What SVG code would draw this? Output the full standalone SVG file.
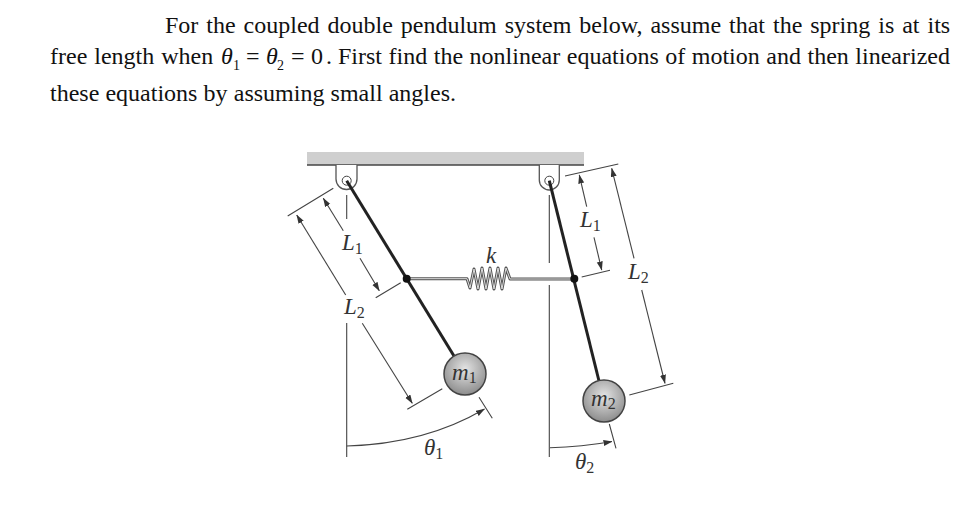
<svg xmlns="http://www.w3.org/2000/svg" width="971" height="505" viewBox="0 0 971 505">
<style>
text{font-family:"Liberation Serif","Times New Roman",serif;fill:#111}
.p{font-size:24px}
.l{font-size:23px;font-style:italic;fill:#333}
.s{font-size:16px;font-style:normal}
.t{fill:none;stroke:#444;stroke-width:1.1}
.d{fill:none;stroke:#444;stroke-width:1.1;marker-end:url(#a)}
.rod{stroke:#222;stroke-width:3;fill:none}
.w1{fill:none;stroke:#555;stroke-width:3;stroke-linejoin:round}
.w2{fill:none;stroke:#ddd;stroke-width:1;stroke-linejoin:round}
.mass{fill:url(#g);stroke:#444;stroke-width:1.5}
.br{fill:#fff;stroke:#555;stroke-width:1.3}
</style>
<defs>
<marker id="a" markerWidth="9" markerHeight="7" refX="8.5" refY="3" orient="auto" markerUnits="userSpaceOnUse"><path d="M0 0L9 3L0 6z" fill="#333"/></marker>
<radialGradient id="g" cx="0.5" cy="0.38" r="0.6"><stop offset="0" stop-color="#e4e4e4"/><stop offset="1" stop-color="#8f8f8f"/></radialGradient>
</defs>
<g id="problem-text">
<text class="p" x="165" y="33" word-spacing="1.96">For the coupled double pendulum system below, assume that the spring is at its</text>
<text class="p" x="50" y="64" word-spacing="1">free length when</text>
<text class="p" x="221" y="64" font-style="italic">θ</text><text x="233" y="70" font-size="14">1</text>
<text class="p" x="246" y="64">=</text>
<text class="p" x="266" y="64" font-style="italic">θ</text><text x="277" y="70" font-size="14">2</text>
<text class="p" x="291" y="64">=</text>
<text class="p" x="311" y="64">0</text>
<text class="p" x="326" y="64">.</text>
<text class="p" x="338" y="64" word-spacing="0.53">First find the nonlinear equations of motion and then linearized</text>
<text class="p" x="50" y="101" word-spacing="0.15">these equations by assuming small angles.</text>
</g>
<g id="ceiling"><rect x="307" y="152" width="277" height="13" fill="#cfcfcf"/><path d="M307 165H584" stroke="#444" stroke-width="1.5"/></g>
<g id="connectors">
<path class="t" d="M346.7 195V219M346.7 323V457M549.3 195V263M549.3 285V457"/>
<path class="t" d="M333.3 188.3L287.7 216M375.7 297.7L400.7 282.7M407.3 409.3L442.3 388.7M479 397.3L492.3 418.3M565 176L618.3 164M581.7 277L610 270.3M629.3 395L673.3 383.3M609.3 424L616 448.3"/>
<path class="d" d="M345.7 295L296.7 215"/><path class="d" d="M362.3 323.3L412.3 403.3"/>
<path class="d" d="M343.3 230.7L323.3 198.3"/><path class="d" d="M360 258.3L379.3 290.7"/>
<path class="d" d="M586.7 206.7L579.3 175"/><path class="d" d="M594 237.3L601.7 270"/>
<path class="d" d="M634 258.3L611.7 168.3"/><path class="d" d="M641.7 290L665 383.3"/>
<path class="d" d="M346.7 446Q425 444 484.5 409"/><path class="d" d="M550 447.7Q582 447 612 441.5"/>
</g>
<g id="spring">
<path class="w1" d="M407 278.7H467L470 288L474 269L478 289L482 268L486 289L490 268L494 289L498 268L502 289L506 268L510 279H574"/>
<path class="w2" d="M407 278.7H467L470 288L474 269L478 289L482 268L486 289L490 268L494 289L498 268L502 289L506 268L510 279H574"/>
<text class="l" x="486" y="263">k</text>
</g>
<g id="pendulum-1">
<path class="br" d="M336 165V179A10.500 10.500 0 0 0 357 179V165"/>
<circle cx="346.700" cy="180.700" r="4.500" fill="#fff" stroke="#444"/>
<path class="rod" d="M346.700 180.700L454 356"/>
<circle cx="406.700" cy="278.700" r="4" fill="#111"/>
<circle class="mass" cx="465" cy="374" r="21"/>
<text class="l" x="452" y="380">m<tspan class="s" dy="3">1</tspan></text>
<text class="l" x="342" y="250">L<tspan class="s" dy="4">1</tspan></text>
<text class="l" x="344" y="314">L<tspan class="s" dy="4">2</tspan></text>
<text class="l" x="424" y="455">θ<tspan class="s" dy="4">1</tspan></text>
</g>
<g id="pendulum-2">
<path class="br" d="M539.300 165V180A10 10 0 0 0 559.300 180V165"/>
<circle cx="549.300" cy="180.700" r="4.500" fill="#fff" stroke="#444"/>
<path class="rod" d="M549.300 180.700L599 381"/>
<circle cx="574.300" cy="278.700" r="4" fill="#111"/>
<circle class="mass" cx="604" cy="401" r="21"/>
<text class="l" x="591" y="406">m<tspan class="s" dy="3">2</tspan></text>
<text class="l" x="580" y="227">L<tspan class="s" dy="4">1</tspan></text>
<text class="l" x="628" y="279">L<tspan class="s" dy="4">2</tspan></text>
<text class="l" x="575" y="469">θ<tspan class="s" dy="4">2</tspan></text>
</g>
</svg>
